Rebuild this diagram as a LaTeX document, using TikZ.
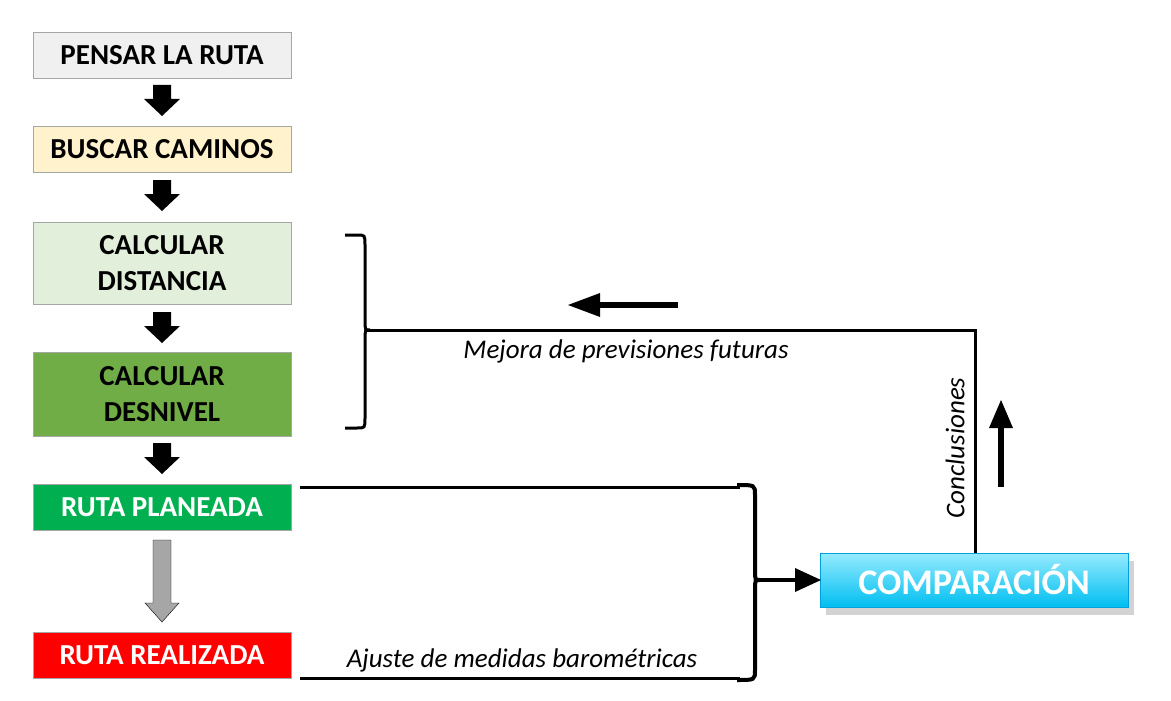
\documentclass[tikz,border=0pt]{standalone}
\usepackage{fontspec}
\setmainfont{Carlito}
\usetikzlibrary{shadows}
\begin{document}
\begin{tikzpicture}[x=1pt,y=-1pt,
 box/.style={draw=gray!70,minimum width=258pt,align=center,font=\fontsize{29}{36}\selectfont\bfseries,inner sep=0pt},
 thick2/.style={line width=3pt},
 lab/.style={font=\fontsize{27}{32}\selectfont\itshape}]
\useasboundingbox (0,0) rectangle (1171,701);
\node[box,fill=gray!12,minimum height=46pt] (p) at (162,55) {PENSAR LA RUTA};
\node[box,fill={rgb,255:red,255;green,242;blue,204},minimum height=46pt] (b) at (162,149) {BUSCAR CAMINOS};
\node[box,fill={rgb,255:red,226;green,239;blue,218},minimum height=82pt] (d) at (162,263) {CALCULAR\\DISTANCIA};
\node[box,fill={rgb,255:red,112;green,173;blue,71},minimum height=84pt] (n) at (162,394) {CALCULAR\\DESNIVEL};
\node[box,fill={rgb,255:red,0;green,176;blue,80},text=white,minimum height=46pt] (pl) at (162,507) {RUTA PLANEADA};
\node[box,fill=red,text=white,minimum height=46pt] (r) at (162,655) {RUTA REALIZADA};
% block arrows
\foreach \y in {85,180,312,443}{
 \fill (153,\y) -- (171,\y) -- (171,\y+14) -- (180,\y+14) -- (162,\y+31) -- (144,\y+14) -- (153,\y+14) -- cycle;}
\filldraw[fill=gray!70,draw=black] (153,540) -- (171,540) -- (171,603) -- (179,603) -- (162,622) -- (145,603) -- (153,603) -- cycle;
% comparacion
\node[draw={rgb,255:red,0;green,160;blue,220},top color={rgb,255:red,150;green,235;blue,255},bottom color={rgb,255:red,0;green,190;blue,240},minimum width=308pt,minimum height=54pt,text=white,font=\fontsize{36}{40}\selectfont\bfseries,drop shadow={shadow xshift=6pt,shadow yshift=-8pt,opacity=0.35}] (c) at (974,580) {COMPARACIÓN};
% bracket 1
\coordinate (k1) at (365,330);
\draw[thick2] (345,235) -- (357,235) .. controls (365,235) .. (365,245) -- (365,320) .. controls (365,330) .. (370,330) .. controls (365,330) .. (365,340) -- (365,418) .. controls (365,428) .. (357,428) -- (345,428);
\coordinate (t1) at (975,330);
\draw[thick2] (k1) -- (t1) -- (t1 |- c.north);
\fill (600,293) -- (568,305) -- (600,317) -- cycle;
\draw[line width=6pt] (598,305) -- (678,305);
\fill (1001,400) -- (989,428) -- (1013,428) -- cycle;
\draw[line width=6pt] (1001,426) -- (1001,487);
% bracket 2
\draw[thick2] (300,487) -- (740,487);
\draw[thick2] (300,678) -- (740,678);
\draw[line width=4pt] (737,485) .. controls (755,485) .. (755,495) -- (755,570) .. controls (755,580) .. (760,580) .. controls (755,580) .. (755,590) -- (755,670) .. controls (755,680) .. (737,680);
\draw[line width=4pt] (757,580) -- (800,580);
\fill (795,568) -- (821,580) -- (795,592) -- cycle;
\node[lab] at (626,351) {Mejora de previsiones futuras};
\node[lab] at (522,660) {Ajuste de medidas barométricas};
\node[lab,rotate=90] at (955,448) {Conclusiones};
\end{tikzpicture}
\end{document}
